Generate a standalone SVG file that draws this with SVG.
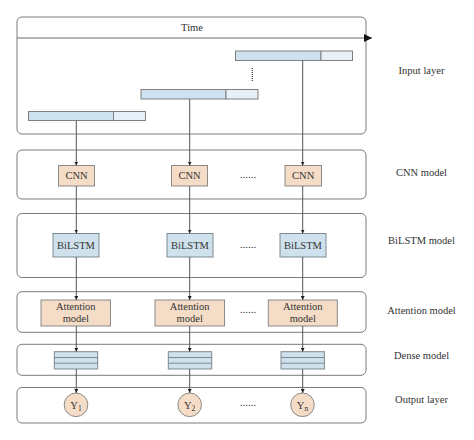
<svg xmlns="http://www.w3.org/2000/svg" width="474" height="440" viewBox="0 0 474 440">
<defs>
<marker id="ah" viewBox="0 0 6 6" refX="6" refY="3" markerWidth="4" markerHeight="4" orient="auto" markerUnits="userSpaceOnUse">
<path d="M0,0 L6,3 L0,6 z" fill="#222"/>
</marker>
<marker id="big" viewBox="0 0 8 8" refX="8" refY="4" markerWidth="8" markerHeight="8" orient="auto" markerUnits="userSpaceOnUse">
<path d="M0,0 L8,4 L0,8 z" fill="#111"/>
</marker>
</defs>
<style>
text{font-family:"Liberation Serif","Times New Roman",serif;font-size:10.5px;fill:#333;text-anchor:middle}
.panel{fill:#fff;stroke:#7a7a7a;stroke-width:1}
.peach{fill:#f4dcc6;stroke:#8a8a8a;stroke-width:1}
.blue{fill:#cfe1ec;stroke:#7f8a90;stroke-width:1}
.bar{fill:#cde1ef;stroke:#808080;stroke-width:1}
.barl{fill:#e6f0f6;stroke:#808080;stroke-width:1}
.conn{stroke:#555;stroke-width:1;fill:none;marker-end:url(#ah)}
.dots{fill:#333;font-size:11px}
</style>
<rect width="474" height="440" fill="#fff"/>

<g id="input-layer">
<rect class="panel" x="17" y="17" width="349" height="117" rx="5"/>
<line x1="17" y1="38" x2="372" y2="38" stroke="#6a6a6a" stroke-width="1" marker-end="url(#big)"/>
<text x="192" y="31">Time</text>
<rect class="bar" x="28.5" y="111.5" width="85" height="9"/>
<rect class="barl" x="113.5" y="111.5" width="32" height="9"/>
<rect class="bar" x="141" y="89.5" width="85" height="9.5"/>
<rect class="barl" x="226" y="89.5" width="32" height="9.5"/>
<rect class="bar" x="235.5" y="51" width="85.5" height="9.5"/>
<rect class="barl" x="321" y="51" width="31.5" height="9.5"/>
<line x1="252.3" y1="68" x2="252.3" y2="82" stroke="#333" stroke-width="1.2" stroke-dasharray="1,1"/>
</g>
<text x="421.5" y="73.5">Input layer</text>

<g id="cnn-model">
<rect class="panel" x="17" y="150" width="349" height="49" rx="5"/>
<rect class="peach" x="58.5" y="165.5" width="36" height="20.5"/>
<text x="76.5" y="178.5">CNN</text>
<rect class="peach" x="171.5" y="165.5" width="36" height="20.5"/>
<text x="189.5" y="178.5">CNN</text>
<rect class="peach" x="285" y="165.5" width="36.5" height="20.5"/>
<text x="303.2" y="178.5">CNN</text>
<text class="dots" x="248" y="177.5">......</text>
</g>
<text x="421.5" y="175.5">CNN model</text>

<g id="bilstm-model">
<rect class="panel" x="17" y="213.5" width="349" height="64" rx="5"/>
<rect class="blue" x="53" y="233.5" width="46" height="23.5"/>
<text x="76" y="248.5">BiLSTM</text>
<rect class="blue" x="167" y="233.5" width="46" height="23.5"/>
<text x="190" y="248.5">BiLSTM</text>
<rect class="blue" x="280" y="233.5" width="46" height="23.5"/>
<text x="303" y="248.5">BiLSTM</text>
<text class="dots" x="248" y="247.5">......</text>
</g>
<text x="421.5" y="244">BiLSTM model</text>

<g id="attention-model">
<rect class="panel" x="17" y="291.7" width="349" height="40.6" rx="5"/>
<rect class="peach" x="41" y="300" width="69.5" height="26"/>
<text x="75.8" y="309.5">Attention</text>
<text x="75.8" y="322">model</text>
<rect class="peach" x="155" y="300" width="69.5" height="26"/>
<text x="189.7" y="309.5">Attention</text>
<text x="189.7" y="322">model</text>
<rect class="peach" x="268.3" y="300" width="69" height="26"/>
<text x="302.8" y="309.5">Attention</text>
<text x="302.8" y="322">model</text>
<text class="dots" x="248" y="313">......</text>
</g>
<text x="421.5" y="313.5">Attention model</text>

<g id="dense-model">
<rect class="panel" x="17" y="344.3" width="349" height="31" rx="5"/>
<rect class="blue" x="54.3" y="351.7" width="43.4" height="17.3"/>
<line x1="54.3" y1="357.5" x2="97.7" y2="357.5" stroke="#7f8a90"/>
<line x1="54.3" y1="363.2" x2="97.7" y2="363.2" stroke="#7f8a90"/>
<rect class="blue" x="168.3" y="351.7" width="43.4" height="17.3"/>
<line x1="168.3" y1="357.5" x2="211.7" y2="357.5" stroke="#7f8a90"/>
<line x1="168.3" y1="363.2" x2="211.7" y2="363.2" stroke="#7f8a90"/>
<rect class="blue" x="281" y="351.7" width="43.4" height="17.3"/>
<line x1="281" y1="357.5" x2="324.4" y2="357.5" stroke="#7f8a90"/>
<line x1="281" y1="363.2" x2="324.4" y2="363.2" stroke="#7f8a90"/>
</g>
<text x="421.5" y="359">Dense model</text>

<g id="output-layer">
<rect class="panel" x="17" y="387.5" width="349" height="35.5" rx="5"/>
<circle class="peach" cx="76" cy="404.8" r="11.8"/>
<text x="76" y="408.5">Y<tspan font-size="7.5" dy="2">1</tspan></text>
<circle class="peach" cx="189.7" cy="404.8" r="11.8"/>
<text x="189.7" y="408.5">Y<tspan font-size="7.5" dy="2">2</tspan></text>
<circle class="peach" cx="302.5" cy="404.8" r="11.8"/>
<text x="302.5" y="408.5">Y<tspan font-size="7.5" dy="2">n</tspan></text>
<text class="dots" x="248" y="406">......</text>
</g>
<text x="421.5" y="402.5">Output layer</text>

<g id="connectors">
<line class="conn" x1="76.3" y1="121" x2="76.3" y2="165.5"/>
<line class="conn" x1="189.7" y1="99" x2="189.7" y2="165.5"/>
<line class="conn" x1="302.7" y1="60.5" x2="302.7" y2="165.5"/>
<line class="conn" x1="76.3" y1="186" x2="76.3" y2="233.5"/>
<line class="conn" x1="189.7" y1="186" x2="189.7" y2="233.5"/>
<line class="conn" x1="302.7" y1="186" x2="302.7" y2="233.5"/>
<line class="conn" x1="76.3" y1="257" x2="76.3" y2="300"/>
<line class="conn" x1="189.7" y1="257" x2="189.7" y2="300"/>
<line class="conn" x1="302.7" y1="257" x2="302.7" y2="300"/>
<line class="conn" x1="76.3" y1="326" x2="76.3" y2="351.7"/>
<line class="conn" x1="189.7" y1="326" x2="189.7" y2="351.7"/>
<line class="conn" x1="302.7" y1="326" x2="302.7" y2="351.7"/>
<line class="conn" x1="76.3" y1="369" x2="76.3" y2="393"/>
<line class="conn" x1="189.7" y1="369" x2="189.7" y2="393"/>
<line class="conn" x1="302.7" y1="369" x2="302.7" y2="393"/>
</g>
</svg>
